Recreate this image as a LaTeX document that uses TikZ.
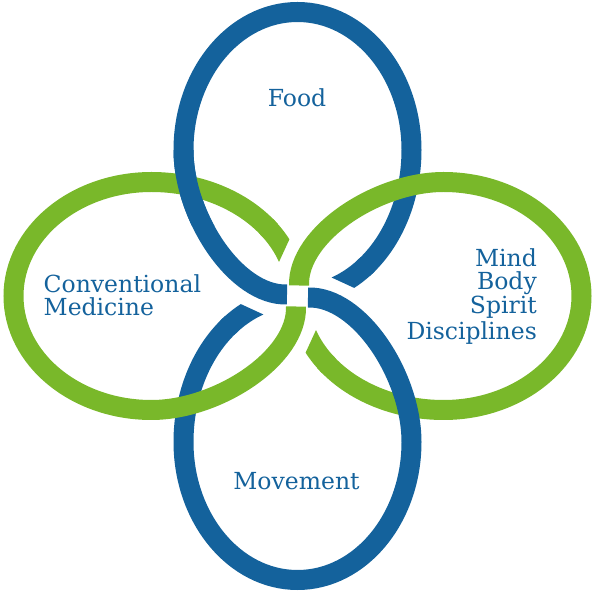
\documentclass[tikz,border=0pt]{standalone}
\usepackage{fontspec}
\setmainfont{DejaVu Serif}
\definecolor{ringblue}{RGB}{20,98,156}
\definecolor{ringgreen}{RGB}{121,184,42}
\tikzset{
  band/.style={line width=20pt},
  lbl/.style={text=ringblue, inner sep=0pt, text height=17pt, text depth=4pt,
    font=\fontsize{23.5}{23.5}\selectfont},
  ring/.pic={
    \draw[band,#1] ([shift={(0,146)}]-55:114pt and 145pt)
      arc[start angle=-55,end angle=0,x radius=114pt,y radius=145pt]
      arc[start angle=0,end angle=180,x radius=114pt,y radius=138pt]
      .. controls (-114,80) and (-62,0) .. (-10.5,1.5);
    \begin{scope}
      \clip (-0.5,34.4) -- (93.8,-9.0) -- (118.9,45.5) -- (24.6,88.9) -- cycle;
      \draw[band,#1] ([shift={(0,146)}]-80:114pt and 145pt)
        arc[start angle=-80,end angle=-52,x radius=114pt,y radius=145pt];
    \end{scope}
  }
}
\begin{document}
\begin{tikzpicture}[x=1pt,y=1pt]
\useasboundingbox (0,0) rectangle (594,595);
\begin{scope}[shift={(297.5,299)}]
  \pic (food ring) {ring=ringblue};
  \pic (mind ring) [rotate=-90] {ring=ringgreen};
  \pic (move ring) [rotate=180] {ring=ringblue};
  \pic (conv ring) [rotate=90] {ring=ringgreen};
  \begin{scope}
    \clip (-150,70) rectangle (-75,145);
    \pic (food over) {ring=ringblue};
  \end{scope}
\end{scope}
\node[lbl, anchor=base] (food) at (297,488.5) {Food};
\node[lbl, anchor=base] (move) at (296.5,105) {Movement};
\node[lbl, anchor=base west] (conv) at (43.5,302) {Conventional};
\node[lbl, anchor=base west] (med) at (43.5,279) {Medicine};
\node[lbl, anchor=base east] (mind) at (537,328) {Mind};
\node[lbl, anchor=base east] (body) at (537,305) {Body};
\node[lbl, anchor=base east] (spirit) at (537,281) {Spirit};
\node[lbl, anchor=base east] (disc) at (537,255) {Disciplines};
\end{tikzpicture}
\end{document}
